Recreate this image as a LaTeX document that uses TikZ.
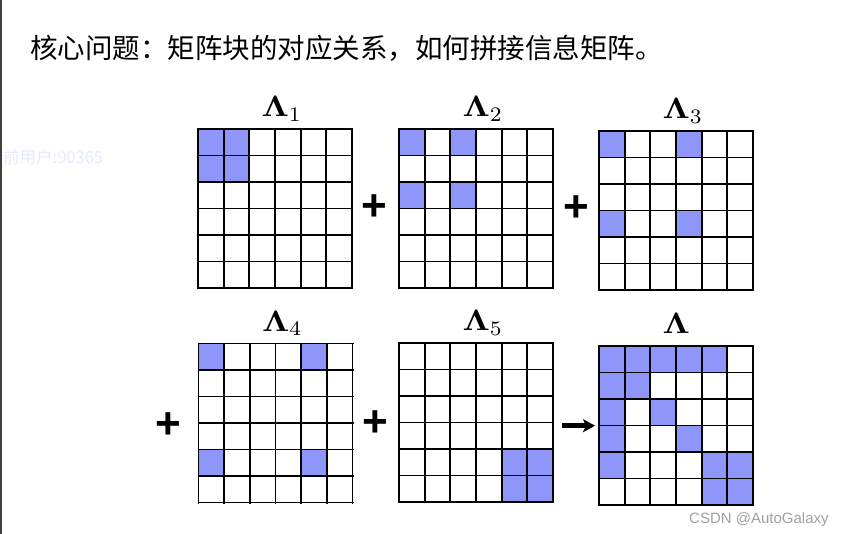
\documentclass[tikz,border=0pt]{standalone}
\usepackage[no-math]{fontspec}
\newfontfamily\cjk{Noto Sans CJK SC}
\newfontfamily\sansarial{Liberation Sans}
\usetikzlibrary{arrows.meta}
\definecolor{bleu}{RGB}{143,150,250}
\definecolor{filigrane}{RGB}{228,236,251}
\definecolor{gris}{RGB}{160,160,160}
\newcommand{\grandL}{\scalebox{1.15}[1]{$\mathbf{\Lambda}$}}
\begin{document}
\begin{tikzpicture}[x=1pt, y=-1pt]
	\tikzset{case/.style={draw=none, inner sep=0, minimum width=154pt, minimum height=159pt, anchor=north west},
		trait/.style={line width=1.8pt, line cap=rect}, pleine/.style={fill=bleu},
		lettre/.style={anchor=base, inner sep=0, scale=2.95, transform shape},
		signe/.style={inner sep=0, font=\sansarial\bfseries\fontsize{44}{44}\selectfont},
		fleche/.style={-{Stealth[length=12pt, width=13pt, inset=3pt]}, line width=4.5pt}};

	\fill[white] (0,0) rectangle (843,534);
	\useasboundingbox (0,0) rectangle (843,534);
	\draw[line width=1.5pt, black!75] (1,0) -- (1,534);

	\node[anchor=west, inner sep=0, font=\cjk\fontsize{27.5}{30}\selectfont] (titre) at (30,48) {核心问题：矩阵块的对应关系，如何拼接信息矩阵。};
	\node[anchor=west, inner sep=0, text=filigrane, font=\cjk\fontsize{16.5}{18}\selectfont] (util) at (3,157) {前用户:90365};
	\node[anchor=base west, inner sep=0, text=gris, font=\sansarial\fontsize{15}{18}\selectfont] (csdn) at (689,523) {CSDN @AutoGalaxy};

	% les six matrices
	\node[case] (m1) at (198,129) {};
	\node[case] (m2) at (399,129) {};
	\node[case] (m3) at (599,131) {};
	\node[case] (m4) at (198.5,343.5) {};
	\node[case] (m5) at (399,343) {};
	\node[case] (m)  at (599,346) {};

	\foreach \c/\r in {0/0,1/0,0/1,1/1} \fill[pleine] ([shift={(\c*25.67,\r*26.5)}]m1.north west) rectangle ++(25.67,26.5);
	\foreach \c/\r in {0/0,2/0,0/2,2/2} \fill[pleine] ([shift={(\c*25.67,\r*26.5)}]m2.north west) rectangle ++(25.67,26.5);
	\foreach \c/\r in {0/0,3/0,0/3,3/3} \fill[pleine] ([shift={(\c*25.67,\r*26.5)}]m3.north west) rectangle ++(25.67,26.5);
	\foreach \c/\r in {0/0,4/0,0/4,4/4} \fill[pleine] ([shift={(\c*25.67,\r*26.5)}]m4.north west) rectangle ++(25.67,26.5);
	\foreach \c/\r in {4/4,5/4,4/5,5/5} \fill[pleine] ([shift={(\c*25.67,\r*26.5)}]m5.north west) rectangle ++(25.67,26.5);
	\foreach \c/\r in {0/0,1/0,2/0,3/0,4/0,0/1,1/1,0/2,2/2,0/3,3/3,0/4,4/4,5/4,4/5,5/5}
		\fill[pleine] ([shift={(\c*25.67,\r*26.5)}]m.north west) rectangle ++(25.67,26.5);

	\foreach \g in {m1,m2,m3,m4,m5,m}
		\foreach \i in {0,...,6} {
			\draw[trait] ([xshift=\i*25.67pt]\g.north west) -- ([xshift=\i*25.67pt]\g.south west);
			\draw[trait] ([yshift=-\i*26.5pt]\g.north west) -- ([yshift=-\i*26.5pt]\g.north east);
		}

	\node[lettre] (l1) at ([yshift=12pt]m1.north) {$\grandL\rlap{$_1$}$};
	\node[lettre] (l2) at ([yshift=12pt]m2.north) {$\grandL\rlap{$_2$}$};
	\node[lettre] (l3) at ([yshift=12pt]m3.north) {$\grandL\rlap{$_3$}$};
	\node[lettre] (l4) at ([yshift=12pt]m4.north) {$\grandL\rlap{$_4$}$};
	\node[lettre] (l5) at ([yshift=12pt]m5.north) {$\grandL\rlap{$_5$}$};
	\node[lettre] (l)  at ([yshift=12pt]m.north) {$\grandL$};

	\node[signe] (p1) at (374,208) {+};
	\node[signe] (p2) at (576,209) {+};
	\node[signe] (p3) at (168,426) {+};
	\node[signe] (p4) at (375,424) {+};

	\draw[fleche, shorten <=9pt, shorten >=4pt] (m5.east |- m.west) -- (m.west);
\end{tikzpicture}
\end{document}
